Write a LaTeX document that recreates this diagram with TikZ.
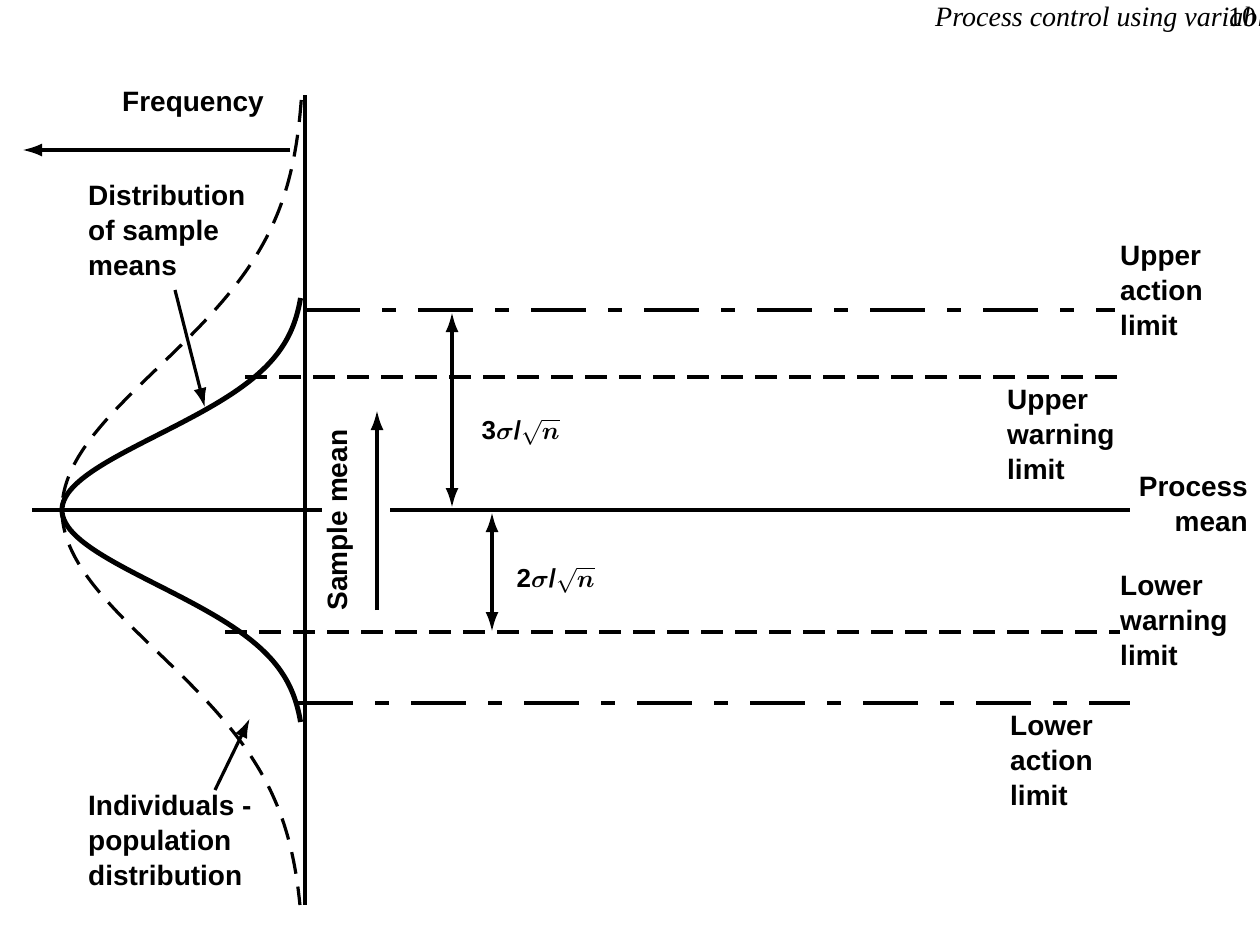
\documentclass[tikz,border=0pt]{standalone}
\usepackage{amsmath}
\usepackage{fontspec}
\setmainfont{Liberation Sans}
\newfontfamily\hdr{Liberation Serif}
\usetikzlibrary{arrows.meta}
\begin{document}
\begin{tikzpicture}[x=1pt,y=-1pt,
  lbl/.style={font=\fontsize{28}{35}\selectfont\bfseries, align=left, anchor=north west, inner sep=0pt},
  axis/.style={line width=4.5pt},
  lim/.style={line width=3.6pt},
  dashdot/.style={lim, dash pattern=on 55pt off 22pt on 14pt off 22pt},
  dsh/.style={lim, dash pattern=on 22pt off 12pt},
  arr/.style={line width=3.2pt, -{Latex[length=20pt,width=13pt]}},
  darr/.style={line width=3.2pt, {Latex[length=20pt,width=13pt]}-{Latex[length=20pt,width=13pt]}}]
\useasboundingbox (0,0) rectangle (1260,934);
\node[anchor=base west, inner sep=0pt, font=\hdr\itshape\fontsize{28}{30}\selectfont] (hdr) at (935,27) {Process control using variables};
\node[anchor=base west, inner sep=0pt, font=\hdr\fontsize{28}{30}\selectfont] (pg) at (1228,27) {10};
% axis
\coordinate (at) at (305,95); \coordinate (ab) at (305,905);
\draw[axis] (at) -- (ab);
% frequency arrow
\coordinate (f1) at (290,150); \coordinate (f2) at (22,150);
\draw[arr] (f1) -- (f2);
\node[lbl] (freq) at (122,92) {Frequency};
% limits
\coordinate (ua1) at (305,310); \coordinate (ua2) at (1115,310);
\draw[dashdot] (ua1) -- (ua2);
\coordinate (uw1) at (245,377); \coordinate (uw2) at (1125,377);
\draw[dsh] (uw1) -- (uw2);
\coordinate (pm1) at (32,510); \coordinate (pm2) at (322,510);
\coordinate (pm3) at (390,510); \coordinate (pm4) at (1130,510);
\draw[lim] (pm1) -- (pm2); \draw[lim] (pm3) -- (pm4);
\coordinate (lw1) at (225,632); \coordinate (lw2) at (1120,632);
\draw[dsh] (lw1) -- (lw2);
\coordinate (la1) at (298,703); \coordinate (la2) at (1130,703);
\draw[dashdot] (la1) -- (la2);
% curves
\draw[line width=5pt, line join=round] plot[domain=298:722, samples=120, smooth] ({305-243*exp(-((\x-510)/75)^2/2)},\x);
\draw[line width=3.2pt, dash pattern=on 22pt off 13pt] plot[domain=100:905, samples=150, smooth] ({305-243*exp(-((\x-510)/142)^2/2)},\x);
% dimension arrows
\coordinate (d3a) at (452,312); \coordinate (d3b) at (452,508);
\draw[darr] (d3a) -- (d3b);
\node[anchor=west, font=\fontsize{26}{28}\selectfont\bfseries] (s3) at (478,432) {3$\boldsymbol{\sigma}$/$\sqrt{\boldsymbol{n}}$};
\coordinate (d2a) at (492,512); \coordinate (d2b) at (492,632);
\draw[darr] (d2a) -- (d2b);
\node[anchor=west, font=\fontsize{26}{28}\selectfont\bfseries] (s2) at (513,580) {2$\boldsymbol{\sigma}$/$\sqrt{\boldsymbol{n}}$};
% sample mean
\coordinate (sm1) at (377,610); \coordinate (sm2) at (377,410);
\draw[arr] (sm1) -- (sm2);
\node[rotate=90, font=\fontsize{28}{30}\selectfont\bfseries] (smt) at (340,520) {Sample mean};
% labels
\node[lbl] (dsm) at (88,185) {Distribution\\of sample\\means};
\coordinate (dsa) at (175,290); \coordinate (dsb) at (205,408);
\draw[arr] (dsa) -- (dsb);
\node[lbl] (ind) at (88,795) {Individuals -\\population\\distribution};
\coordinate (ia) at (215,790); \coordinate (ib) at (250,718);
\draw[arr] (ia) -- (ib);
\node[lbl] (ual) at (1120,246) {Upper\\action\\limit};
\node[lbl] (uwl) at (1007,390) {Upper\\warning\\limit};
\node[lbl, align=right, anchor=north east] (pml) at (1248,477) {Process\\mean};
\node[lbl] (lwl) at (1120,576) {Lower\\warning\\limit};
\node[lbl] (lal) at (1010,716) {Lower\\action\\limit};
\end{tikzpicture}
\end{document}
